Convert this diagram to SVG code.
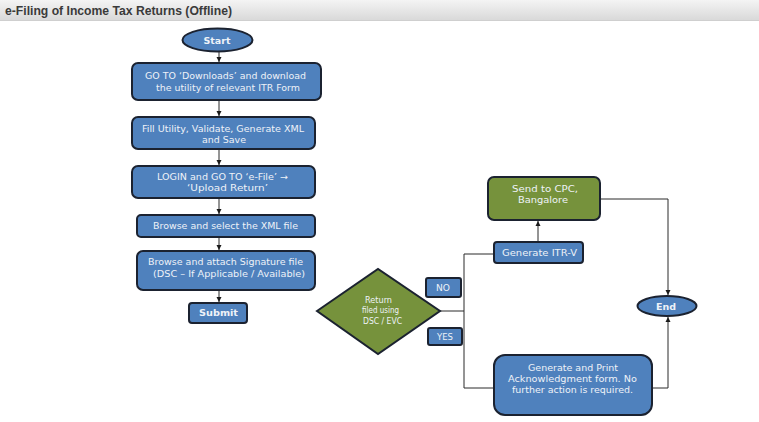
<svg xmlns="http://www.w3.org/2000/svg" width="759" height="422" viewBox="0 0 759 422">
<style>
.bx{fill:#4f81bd;stroke:#1b2230;stroke-width:2}
.gr{fill:#76923c;stroke:#1b2230;stroke-width:2}
.t{font-family:"DejaVu Sans",Verdana,sans-serif;font-size:9px;fill:#eef2f8;text-anchor:middle;dominant-baseline:central}
.b{font-weight:bold}
.ln{fill:none;stroke:#2a2a2a;stroke-width:1}
</style>
<defs>
<linearGradient id="hg" x1="0" y1="0" x2="0" y2="1">
<stop offset="0" stop-color="#f4f4f4"/>
<stop offset="1" stop-color="#d9d9d9"/>
</linearGradient>
<marker id="ar" markerWidth="6" markerHeight="6" refX="5" refY="3" orient="auto" markerUnits="userSpaceOnUse">
<path d="M0,0.5 L5,3 L0,5.5 Z" fill="#1a1a1a"/>
</marker>
</defs>
<rect x="0" y="0" width="759" height="422" fill="#ffffff"/>
<rect x="0" y="0" width="759" height="20" fill="url(#hg)"/>
<line x1="0" y1="20.5" x2="759" y2="20.5" stroke="#cfcfcf"/>
<text x="5" y="14.5" font-family="'Liberation Sans',Arial,sans-serif" font-size="13" font-weight="bold" fill="#3a3a3a" textLength="227" lengthAdjust="spacingAndGlyphs">e-Filing of Income Tax Returns (Offline)</text>

<g id="connectors">
<line class="ln" x1="219" y1="52" x2="219" y2="62" marker-end="url(#ar)"/>
<line class="ln" x1="219" y1="101" x2="219" y2="116" marker-end="url(#ar)"/>
<line class="ln" x1="219" y1="150" x2="219" y2="165" marker-end="url(#ar)"/>
<line class="ln" x1="219" y1="199" x2="219" y2="214" marker-end="url(#ar)"/>
<line class="ln" x1="219" y1="238" x2="219" y2="250" marker-end="url(#ar)"/>
<line class="ln" x1="219" y1="291" x2="219" y2="302" marker-end="url(#ar)"/>
<polyline class="ln" points="440,311 464,311"/>
<polyline class="ln" points="494,254 464,254 464,388 494,388"/>
<line class="ln" x1="538" y1="242" x2="538" y2="221" marker-end="url(#ar)"/>
<polyline class="ln" points="600,199 668,199 668,295" marker-end="url(#ar)"/>
<polyline class="ln" points="652,388 668,388 668,317" marker-end="url(#ar)"/>
</g>

<g id="start">
<ellipse class="bx" cx="217.5" cy="40" rx="35" ry="11.5"/>
<text class="t b" x="217" y="40.5" font-size="9.5" textLength="27" lengthAdjust="spacingAndGlyphs">Start</text>
</g>
<g id="download">
<rect class="bx" x="132" y="63" width="189" height="37" rx="6"/>
<text class="t" x="225.5" y="76" textLength="161" lengthAdjust="spacingAndGlyphs">GO TO ‘Downloads’ and download</text>
<text class="t" x="228" y="88" textLength="144" lengthAdjust="spacingAndGlyphs">the utility  of relevant ITR Form</text>
</g>
<g id="fill">
<rect class="bx" x="132" y="117" width="183" height="32" rx="6"/>
<text class="t" x="223" y="129" textLength="162" lengthAdjust="spacingAndGlyphs">Fill Utility, Validate, Generate XML</text>
<text class="t" x="224" y="140" textLength="44" lengthAdjust="spacingAndGlyphs">and Save</text>
</g>
<g id="login">
<rect class="bx" x="132" y="166" width="183" height="32" rx="6"/>
<text class="t" x="222.5" y="177" textLength="131" lengthAdjust="spacingAndGlyphs">LOGIN and GO TO ‘e-File’ →</text>
<text class="t" x="227.5" y="188" textLength="81" lengthAdjust="spacingAndGlyphs">‘Upload Return’</text>
</g>
<g id="browse">
<rect class="bx" x="137" y="215" width="178" height="22" rx="4"/>
<text class="t" x="225.5" y="226" textLength="145" lengthAdjust="spacingAndGlyphs">Browse and select the XML file</text>
</g>
<g id="attach">
<rect class="bx" x="137" y="251" width="178" height="39" rx="6"/>
<text class="t" x="225.5" y="262" textLength="155" lengthAdjust="spacingAndGlyphs">Browse and attach Signature file</text>
<text class="t" x="229" y="273.5" textLength="152" lengthAdjust="spacingAndGlyphs">(DSC – If Applicable / Available)</text>
</g>
<g id="submit">
<rect class="bx" x="189" y="303" width="58" height="20" rx="3"/>
<text class="t b" x="218.5" y="313" font-size="9.5" textLength="39" lengthAdjust="spacingAndGlyphs">Submit</text>
</g>
<g id="decision">
<polygon class="gr" points="317,311 378,269 440,311 378,354"/>
<text class="t" x="378.5" y="299.5" font-size="8.6" textLength="27" lengthAdjust="spacingAndGlyphs">Return</text>
<text class="t" x="380.5" y="310" font-size="8.6" textLength="37" lengthAdjust="spacingAndGlyphs">filed using</text>
<text class="t" x="382.5" y="320.5" font-size="8.6" textLength="39" lengthAdjust="spacingAndGlyphs">DSC / EVC</text>
</g>
<g id="no">
<rect class="bx" x="426" y="278" width="35" height="19" rx="2"/>
<text class="t" x="443" y="288" font-size="8.6" textLength="14" lengthAdjust="spacingAndGlyphs">NO</text>
</g>
<g id="yes">
<rect class="bx" x="428" y="328" width="34" height="17" rx="2"/>
<text class="t" x="445" y="337" font-size="8.6" textLength="16" lengthAdjust="spacingAndGlyphs">YES</text>
</g>
<g id="itrv">
<rect class="bx" x="494" y="242" width="89" height="21" rx="3"/>
<text class="t" x="539.5" y="252.5" textLength="75" lengthAdjust="spacingAndGlyphs">Generate ITR-V</text>
</g>
<g id="cpc">
<rect class="gr" x="488" y="177" width="112" height="43" rx="6"/>
<text class="t" x="545" y="189" textLength="66" lengthAdjust="spacingAndGlyphs">Send to CPC,</text>
<text class="t" x="543" y="200" textLength="50" lengthAdjust="spacingAndGlyphs">Bangalore</text>
</g>
<g id="ack">
<rect class="bx" x="494" y="355" width="158" height="60" rx="11"/>
<text class="t" x="573" y="368" textLength="90" lengthAdjust="spacingAndGlyphs">Generate and Print</text>
<text class="t" x="572.5" y="379" textLength="129" lengthAdjust="spacingAndGlyphs">Acknowledgment form. No</text>
<text class="t" x="572.5" y="390" textLength="121" lengthAdjust="spacingAndGlyphs">further action is required.</text>
</g>
<g id="end">
<ellipse class="bx" cx="667" cy="306" rx="29.5" ry="10"/>
<text class="t b" x="666" y="306.5" font-size="9.5" textLength="20" lengthAdjust="spacingAndGlyphs">End</text>
</g>
</svg>
